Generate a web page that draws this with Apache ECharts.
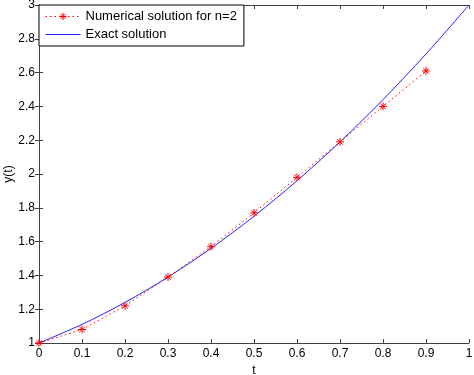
<!DOCTYPE html>
<html><head><meta charset="utf-8">
<script src="https://cdn.jsdelivr.net/npm/echarts@6/dist/echarts.min.js"></script>
<style>html,body{margin:0;padding:0;background:#fff}#c{width:474px;height:375px}</style>
</head><body><div id="c"></div>
<script>
const xTicks = ['0','0.1','0.2','0.3','0.4','0.5','0.6','0.7','0.8','0.9','1'];
const yTicks = ['1','1.2','1.4','1.6','1.8','2','2.2','2.4','2.6','2.8','3'];
const tNum = [0,0.1,0.2,0.3,0.4,0.5,0.6,0.7,0.8,0.9];
const yNum = [1,1.08,1.22,1.39,1.57,1.77,1.98,2.19,2.40,2.61];
const tExact = [0,0.1,0.2,0.3,0.4,0.5,0.6,0.7,0.8,0.9,1.0];
const yExact = [1,1.11,1.24,1.39,1.56,1.75,1.96,2.19,2.44,2.71,3.0];

const FONT = '"Liberation Sans", Arial, sans-serif';
const axisCol = '#404040';

const baseAxis = {
  type: 'value', min: 0, max: 1, interval: 0.1,
  axisLine: {show: true, lineStyle: {color: axisCol, width: 1}},
  axisTick: {show: true, inside: true, length: 4, lineStyle: {color: axisCol}},
  splitLine: {show: false}
};
const chart = echarts.init(document.getElementById('c'), null, {renderer: 'canvas'});
const star = 'path://M5,0L5,10M0,5L10,5M1.6,1.6L8.4,8.4M8.4,1.6L1.6,8.4';
chart.setOption({
  animation: false,
  backgroundColor: '#fff',
  textStyle: {fontFamily: FONT},
  grid: {left: 39, right: 5, top: 5, bottom: 32, containLabel: false, outerBoundsMode: 'none'},
  legend: {
    orient: 'vertical', left: 39, top: 5,
    padding: [5, 7, 5, 6], itemGap: 5, itemWidth: 35, itemHeight: 9,
    borderColor: '#000', borderWidth: 1, borderRadius: 0, backgroundColor: '#fff',
    lineStyle: {width: 1},
    textStyle: {fontFamily: FONT, fontSize: 13, color: '#000'},
    data: [
      {name: 'Numerical solution for n=2',
       itemStyle: {color: 'rgba(0,0,0,0)', borderColor: '#ff0000', borderWidth: 1}},
      {name: 'Exact solution', itemStyle: {opacity: 0}}
    ]
  },
  xAxis: [
    Object.assign({}, baseAxis, {
      position: 'bottom', name: 't', nameLocation: 'middle', nameGap: 22, nameMoveOverlap: false,
      nameTextStyle: {fontFamily: FONT, fontSize: 12, color: '#000'},
      axisLabel: {fontFamily: FONT, fontSize: 12, color: '#000', margin: 5,
        formatter: v => xTicks[Math.round(v*10)]}
    }),
    Object.assign({}, baseAxis, {position: 'top', axisLabel: {show: false}})
  ],
  yAxis: [
    Object.assign({}, baseAxis, {
      min: 1, max: 3, interval: 0.2, position: 'left',
      name: 'y(t)', nameLocation: 'middle', nameGap: 24, nameRotate: 90, nameMoveOverlap: false,
      nameTextStyle: {fontFamily: FONT, fontSize: 12, color: '#000'},
      axisLabel: {fontFamily: FONT, fontSize: 12, color: '#000', margin: 4,
        formatter: v => yTicks[Math.round((v-1)*5)]}
    }),
    Object.assign({}, baseAxis, {min: 1, max: 3, interval: 0.2, position: 'right', axisLabel: {show: false}})
  ],
  series: [
    {
      name: 'Numerical solution for n=2', type: 'line',
      data: tNum.map((t,i) => [t, yNum[i]]),
      symbol: star, symbolSize: 8, showSymbol: true,
      itemStyle: {color: '#ff0000', borderColor: '#ff0000', borderWidth: 1},
      lineStyle: {color: '#ff0000', width: 1, type: [1.5, 3]},
      z: 3
    },
    {
      name: 'Exact solution', type: 'line',
      data: tExact.map((t,i) => [t, yExact[i]]),
      smooth: 0.3, symbol: 'none', showSymbol: false,
      itemStyle: {color: '#0000ff'},
      lineStyle: {color: '#2020ff', width: 1},
      z: 2
    }
  ]
});
</script></body></html>
